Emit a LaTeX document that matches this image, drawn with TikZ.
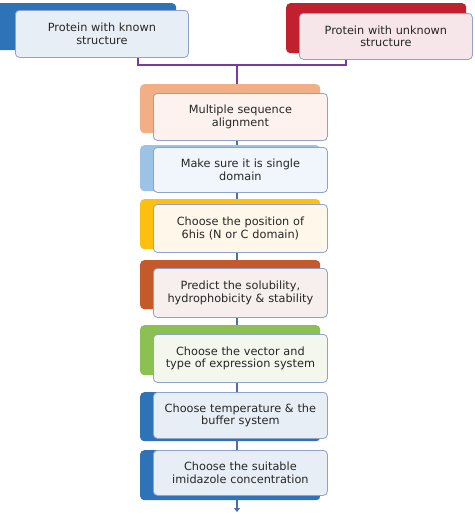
\documentclass[tikz,border=0pt]{standalone}
\usepackage{fontspec}
\setmainfont{DejaVu Sans}
\usetikzlibrary{arrows.meta}
\definecolor{fgline}{HTML}{8EA2CC}
\definecolor{purp}{HTML}{7A3A9E}
\definecolor{linkc}{HTML}{4E6EA6}
\definecolor{txt}{HTML}{262626}
\definecolor{cBlueD}{HTML}{2E72B8}
\definecolor{fBlueD}{HTML}{E8EEF6}
\definecolor{cRed}{HTML}{C1202F}
\definecolor{fRed}{HTML}{F6E5E9}
\definecolor{cOrange}{HTML}{F2AE84}
\definecolor{fOrange}{HTML}{FDF2EE}
\definecolor{cBlueL}{HTML}{9CC2E5}
\definecolor{fBlueL}{HTML}{F1F6FC}
\definecolor{cGold}{HTML}{FDC010}
\definecolor{fGold}{HTML}{FFF8EA}
\definecolor{cRust}{HTML}{C45A2A}
\definecolor{fRust}{HTML}{F7EFEE}
\definecolor{cGreen}{HTML}{8CC152}
\definecolor{fGreen}{HTML}{F3F7EE}
\begin{document}
\begin{tikzpicture}[x=1pt,y=-1pt,
  bgbox/.style={rounded corners=4pt, draw=none, inner sep=0pt, anchor=north west, minimum width=180pt},
  fgbox/.style={rounded corners=4pt, draw=fgline, line width=0.8pt, inner sep=0pt, anchor=north west,
     minimum width=174pt, align=center, text width=172pt, text=txt, font=\fontsize{11.3}{12.6}\selectfont},
  link/.style={draw=linkc, line width=1.2pt},
  plink/.style={draw=purp, line width=1.1pt}]
\useasboundingbox (0,0) rectangle (474,514);

% top boxes
\node[bgbox, fill=cBlueD, minimum height=47pt] (kbg) at (-4,3) {};
\node[fgbox, fill=fBlueD, minimum height=47pt, minimum width=173pt] (kfg) at (15,10) {Protein with known\\structure};
\node[bgbox, fill=cRed, minimum height=50pt] (ubg) at (286,3) {};
\node[fgbox, fill=fRed, minimum height=46pt, minimum width=173pt] (ufg) at (299,13) {Protein with unknown\\structure};

% stack
\node[bgbox, fill=cOrange, minimum height=49pt] (b1) at (140,84) {};
\node[fgbox, fill=fOrange, minimum height=47pt] (f1) at (153,93) {Multiple sequence\\alignment};
\node[bgbox, fill=cBlueL, minimum height=46pt] (b2) at (140,145) {};
\node[fgbox, fill=fBlueL, minimum height=45pt] (f2) at (153,147) {Make sure it is single\\domain};
\node[bgbox, fill=cGold, minimum height=50pt] (b3) at (140,199) {};
\node[fgbox, fill=fGold, minimum height=48pt] (f3) at (153,204) {Choose the position of\\6his (N or C domain)};
\node[bgbox, fill=cRust, minimum height=49pt] (b4) at (140,260) {};
\node[fgbox, fill=fRust, minimum height=49pt] (f4) at (153,268) {Predict the solubility,\\hydrophobicity \& stability};
\node[bgbox, fill=cGreen, minimum height=50pt] (b5) at (140,325) {};
\node[fgbox, fill=fGreen, minimum height=48pt] (f5) at (153,334) {Choose the vector and\\type of expression system};
\node[bgbox, fill=cBlueD, minimum height=49pt] (b6) at (140,392) {};
\node[fgbox, fill=fBlueD, minimum height=46pt] (f6) at (153,392) {Choose temperature \& the\\buffer system};
\node[bgbox, fill=cBlueD, minimum height=50pt] (b7) at (140,450) {};
\node[fgbox, fill=fBlueD, minimum height=45pt] (f7) at (153,450) {Choose the suitable\\imidazole concentration};

% top connectors
\coordinate (jl) at (138,65);
\coordinate (jr) at (346,65);
\coordinate (jc) at (237,65);
\draw[plink] (kfg.south -| jl) -- (jl) -- (jr) -- (ufg.south -| jr);
\draw[plink] (jc) -- (b1.north -| jc);

% stack links
\draw[link] (f1.south -| jc) -- (b2.north -| jc);
\draw[link] (f2.south -| jc) -- (b3.north -| jc);
\draw[link] (f3.south -| jc) -- (b4.north -| jc);
\draw[link] (f4.south -| jc) -- (b5.north -| jc);
\draw[link] (f5.south -| jc) -- (b6.north -| jc);
\draw[link] (f6.south -| jc) -- (b7.north -| jc);
\coordinate (endc) at (237,512);
\draw[link, -{Triangle[width=6pt,length=4pt]}] (b7.south -| jc) -- (endc);
\end{tikzpicture}
\end{document}
